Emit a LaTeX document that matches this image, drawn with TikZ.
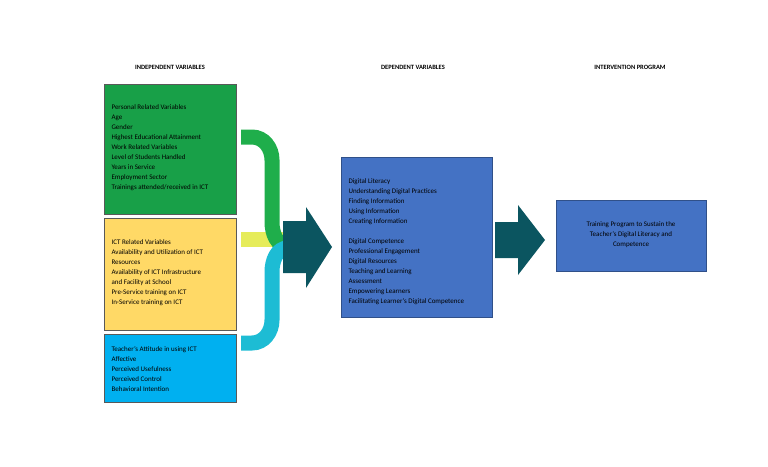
\documentclass[tikz,border=0pt]{standalone}
\usepackage{fontspec}
\setmainfont{Carlito}
\begin{document}
\begin{tikzpicture}[x=1pt,y=-1pt,
 box/.style={draw=#1!60!black,line width=0.6pt},
 txt/.style={font=\fontsize{7}{10}\selectfont,align=left,anchor=west},
 hdr/.style={font=\fontsize{6.5}{8}\selectfont\bfseries},
 band/.style={line width=15pt,#1}]
\definecolor{gr}{HTML}{1FAE4B}\definecolor{dg}{HTML}{18A048}
\definecolor{yl}{HTML}{FFD966}\definecolor{sb}{HTML}{00B0F0}
\definecolor{db}{HTML}{4472C4}\definecolor{teal}{HTML}{0B5560}
\definecolor{lime}{HTML}{E6EC5A}\definecolor{cy}{HTML}{1DBCD4}
\useasboundingbox (0,0) rectangle (768,466);
\node[hdr] (h1) at (170,67) {INDEPENDENT VARIABLES};
\node[hdr] (h2) at (413,67) {DEPENDENT VARIABLES};
\node[hdr] (h3) at (630,67) {INTERVENTION PROGRAM};
\fill[dg,draw=gray!70!black,line width=0.5pt] (104,84) rectangle (236,214);
\fill[yl,draw=gray!70!black,line width=0.5pt] (104,218) rectangle (236,330);
\fill[sb,draw=gray!70!black,line width=0.5pt] (104,334) rectangle (236,402);
\fill[db,draw=db!70!black,line width=0.5pt] (341,157) rectangle (492,317);
\fill[db,draw=db!70!black,line width=0.5pt] (556,200) rectangle (706,271);
\node[txt] (t1) at (108,148) {Personal Related Variables\\Age\\Gender\\Highest Educational Attainment\\Work Related Variables\\Level of Students Handled\\Years in Service\\Employment Sector\\Trainings attended/received in ICT};
\node[txt] (t2) at (108,273) {ICT Related Variables\\Availability and Utilization of ICT\\Resources\\Availability of ICT Infrastructure\\and Facility at School\\Pre-Service training on ICT\\In-Service training on ICT};
\node[txt] (t3) at (108,369) {Teacher's Attitude in using ICT\\Affective\\Perceived Usefulness\\Perceived Control\\Behavioral Intention};
\node[txt] (t4) at (345,242) {Digital Literacy\\Understanding Digital Practices\\Finding Information\\Using Information\\Creating Information\\[10pt]Digital Competence\\Professional Engagement\\Digital Resources\\Teaching and Learning\\Assessment\\Empowering Learners\\Facilitating Learner's Digital Competence};
\node[font=\fontsize{7}{10}\selectfont,align=center] (t5) at (631,235) {Training Program to Sustain the\\Teacher's Digital Literacy and\\Competence};
\draw[band=lime] (241,239) -- (286,239);
\draw[band=gr] (241,137) -- (252,137) to[out=0,in=90] (272,160) -- (272,222) to[out=-90,in=180] (288,246);
\draw[band=cy] (241,343) -- (252,343) to[out=0,in=-90] (272,320) -- (272,272) to[out=90,in=180] (288,248);
\fill[teal] (283,221) -- (306,221) -- (306,207) -- (332,247) -- (306,288) -- (306,273) -- (283,273) -- cycle;
\fill[teal] (495,222) -- (518,222) -- (518,205) -- (545,240) -- (518,275) -- (518,258) -- (495,258) -- cycle;
\end{tikzpicture}
\end{document}
